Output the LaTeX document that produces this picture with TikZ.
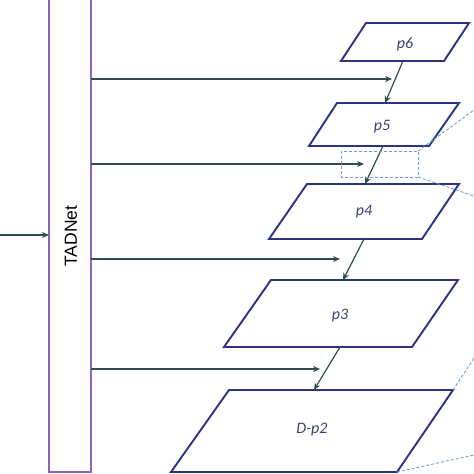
\documentclass[tikz,border=0pt]{standalone}
\usepackage{fontspec}
\setmainfont{Liberation Sans}
\newfontfamily\lblfont{Carlito}
\usetikzlibrary{arrows.meta}
\definecolor{barcol}{HTML}{8A63BD}
\definecolor{planecol}{HTML}{2E3282}
\definecolor{arrcol}{HTML}{2F4D50}
\definecolor{dashcol}{HTML}{6E9FC8}
\definecolor{lblcol}{HTML}{3E426E}
\tikzset{
  plane/.style={draw=planecol, line width=1.9pt, line join=miter},
  flow/.style={draw=arrcol, line width=1.2pt, -{Stealth[length=7pt,width=6pt]}},
  zoomline/.style={draw=dashcol, line width=0.9pt, dash pattern=on 3pt off 2pt},
  lbl/.style={font=\lblfont\itshape\fontsize{16}{18}\selectfont, text=lblcol, inner sep=0pt},
  barbox/.style={draw=barcol, line width=1.6pt, fill=white}
}
\begin{document}
\begin{tikzpicture}[x=1pt,y=-1pt]
\useasboundingbox (0,0) rectangle (474,474);
\clip (0,0) rectangle (474,474);
% backbone
\draw[barbox] (49,-5) rectangle (91,472);
\node[rotate=90, font=\fontsize{17.5}{20}\selectfont, inner sep=0pt] (tad) at (71,236) {TADNet};
\coordinate (in) at (0,235);
\coordinate (barin) at (49,235);
\draw[flow] (in) -- (barin);
% planes
\draw[plane] (366,23) -- (469,23) -- (444,61) -- (341,61) -- cycle;
\draw[plane] (337,103) -- (459,103) -- (429,146) -- (309,146) -- cycle;
\draw[plane] (307,184) -- (459,184) -- (422,239) -- (269,239) -- cycle;
\draw[plane] (271,280) -- (458,280) -- (412,347) -- (224,347) -- cycle;
\draw[plane] (229,390) -- (453,390) -- (397,472) -- (171,472) -- cycle;
\node[lbl] (p6) at (405,44) {p6};
\node[lbl] (p5) at (382,127) {p5};
\node[lbl] (p4) at (364,212) {p4};
\node[lbl] (p3) at (340,316) {p3};
\node[lbl] (p2) at (312,430) {D-p2};
% lateral connections
\coordinate (b1) at (91,79);  \coordinate (t1) at (392,79);
\coordinate (b2) at (91,164); \coordinate (t2) at (364,164);
\coordinate (b3) at (91,259); \coordinate (t3) at (340,259);
\coordinate (b4) at (91,369); \coordinate (t4) at (320,369);
\draw[flow] (b1) -- (t1);
\draw[flow] (b2) -- (t2);
\draw[flow] (b3) -- (t3);
\draw[flow] (b4) -- (t4);
% top-down connections
\coordinate (d6) at (403,61);  \coordinate (u5) at (385,103);
\coordinate (d5) at (383,146); \coordinate (u4) at (365,184);
\coordinate (d4) at (364,239); \coordinate (u3) at (343,280);
\coordinate (d3) at (340,347); \coordinate (u2) at (314,390);
\draw[flow] (d6) -- (u5);
\draw[flow] (d5) -- (u4);
\draw[flow] (d4) -- (u3);
\draw[flow] (d3) -- (u2);
% zoom indication
\draw[zoomline] (341,151) rectangle (418,177);
\coordinate (z1) at (418,151); \coordinate (z1e) at (474,110);
\coordinate (z2) at (418,177); \coordinate (z2e) at (474,196);
\coordinate (z3) at (453,390); \coordinate (z3e) at (474,358);
\coordinate (z4) at (397,472); \coordinate (z4e) at (474,455);
\draw[zoomline] (z1) -- (z1e);
\draw[zoomline] (z2) -- (z2e);
\draw[zoomline] (z3) -- (z3e);
\draw[zoomline] (z4) -- (z4e);
\end{tikzpicture}
\end{document}
